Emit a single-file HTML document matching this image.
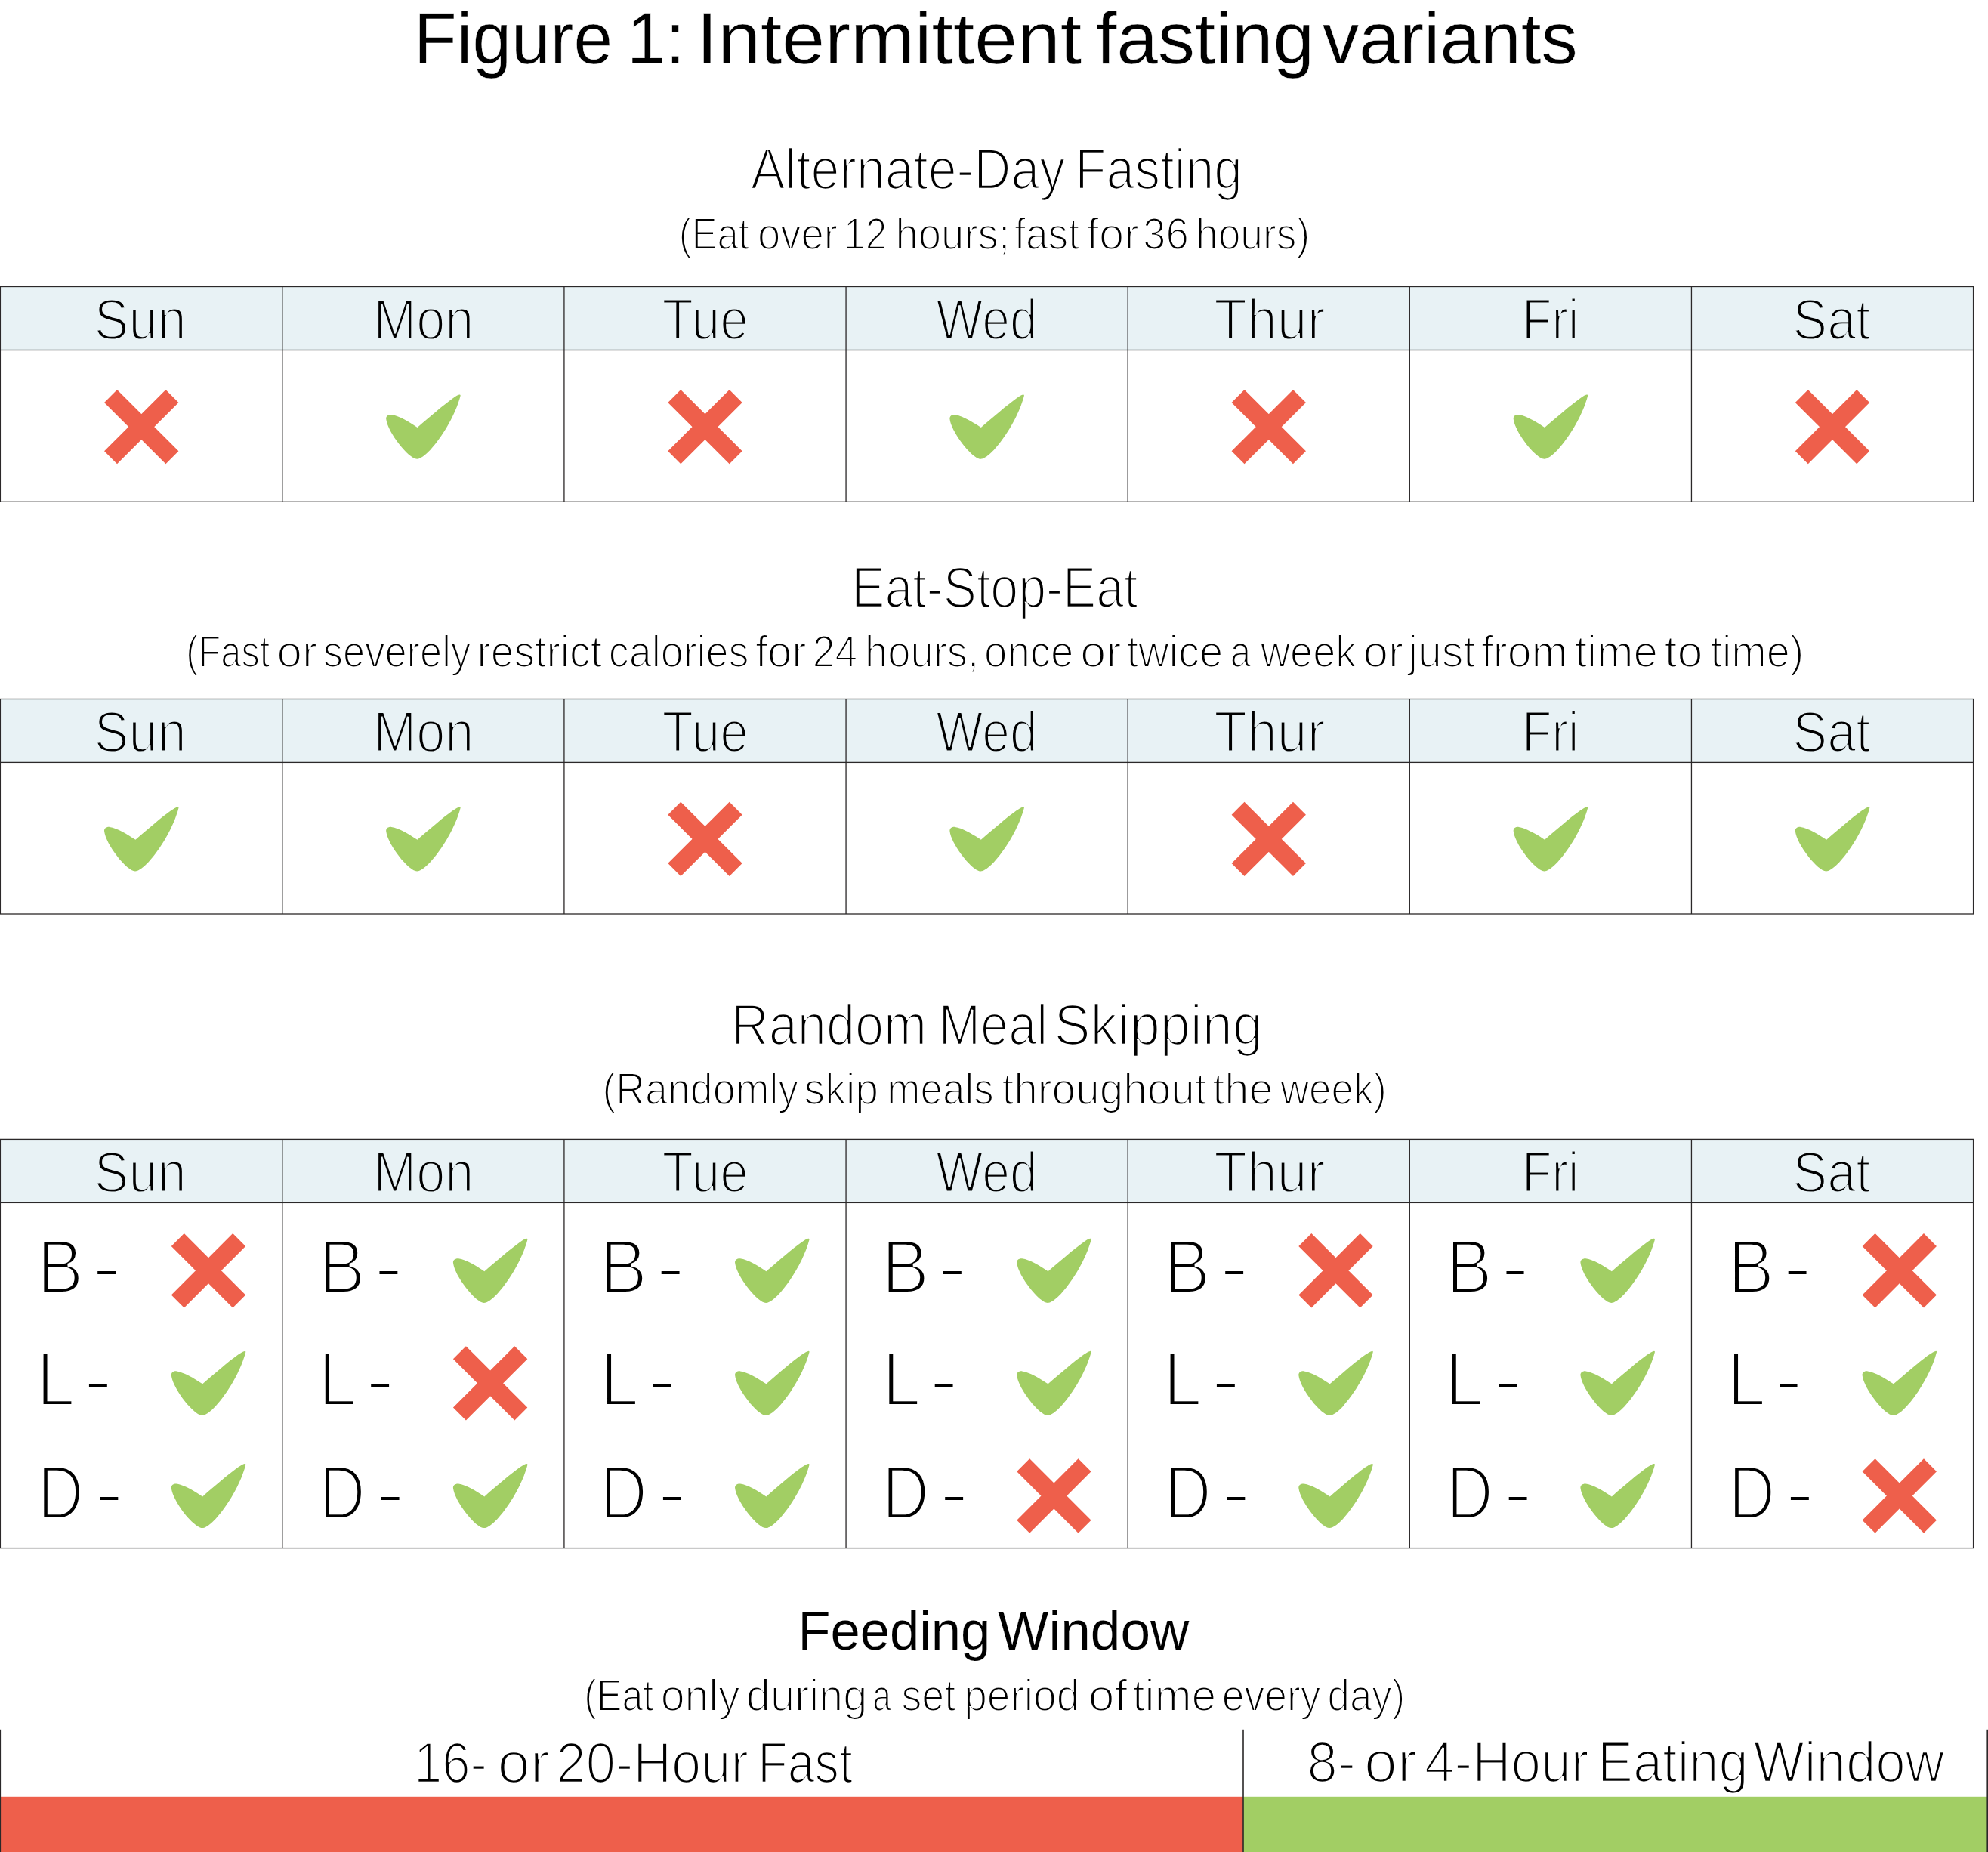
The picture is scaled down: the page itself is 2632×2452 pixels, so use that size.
<!DOCTYPE html>
<html lang="en"><head><meta charset="utf-8"><title>Figure 1: Intermittent fasting variants</title>
<style>
html,body{margin:0;padding:0;background:#fff}
body{width:2632px;height:2452px;overflow:hidden}
svg{display:block}
text{font-family:"Liberation Sans",sans-serif;font-weight:400;fill:#000;white-space:pre}
</style></head><body>
<svg width="2632" height="2452" viewBox="0 0 2632 2452">
<defs>
<path id="ck" d="M41.4,43.5 C57,30 76,13.5 88.5,4.7 C92,2.3 95,0.6 97,0.1 C98.3,-0.2 98.8,0.6 98.3,2 C89,38 55,85.2 41,85.2 C30,85.2 2,50 0,32 C-0.3,28.5 3,26.3 7,26.6 C17,28 31,36.5 41.4,43.5 Z" fill="#a2ce64"/>
<path id="xx" d="M-40.7,-40.7 L40.7,40.7 M40.7,-40.7 L-40.7,40.7" stroke="#ee5f4b" stroke-width="24" fill="none"/>
</defs>
<rect x="0.67" y="379.50" width="2611.91" height="84.00" fill="#e8f2f5"/>
<rect x="0.67" y="925.50" width="2611.91" height="83.90" fill="#e8f2f5"/>
<rect x="0.67" y="1508.40" width="2611.91" height="84.00" fill="#e8f2f5"/>
<rect x="0" y="2378.8" width="1646.0" height="73.2" fill="#ee5f4b"/>
<rect x="1646.0" y="2378.8" width="986.0" height="73.2" fill="#a2ce64"/>
<rect x="0.00" y="378.85" width="2613.18" height="1.3" fill="#2b2829"/>
<rect x="0.00" y="462.85" width="2613.18" height="1.3" fill="#2b2829"/>
<rect x="0.00" y="663.65" width="2613.18" height="1.3" fill="#2b2829"/>
<rect x="-0.25" y="379.50" width="1.3" height="284.80" fill="#2b2829"/>
<rect x="373.15" y="379.50" width="1.3" height="284.80" fill="#2b2829"/>
<rect x="746.28" y="379.50" width="1.3" height="284.80" fill="#2b2829"/>
<rect x="1119.41" y="379.50" width="1.3" height="284.80" fill="#2b2829"/>
<rect x="1492.54" y="379.50" width="1.3" height="284.80" fill="#2b2829"/>
<rect x="1865.67" y="379.50" width="1.3" height="284.80" fill="#2b2829"/>
<rect x="2238.80" y="379.50" width="1.3" height="284.80" fill="#2b2829"/>
<rect x="2611.93" y="379.50" width="1.3" height="284.80" fill="#2b2829"/>
<rect x="0.00" y="924.85" width="2613.18" height="1.3" fill="#2b2829"/>
<rect x="0.00" y="1008.75" width="2613.18" height="1.3" fill="#2b2829"/>
<rect x="0.00" y="1209.35" width="2613.18" height="1.3" fill="#2b2829"/>
<rect x="-0.25" y="925.50" width="1.3" height="284.50" fill="#2b2829"/>
<rect x="373.15" y="925.50" width="1.3" height="284.50" fill="#2b2829"/>
<rect x="746.28" y="925.50" width="1.3" height="284.50" fill="#2b2829"/>
<rect x="1119.41" y="925.50" width="1.3" height="284.50" fill="#2b2829"/>
<rect x="1492.54" y="925.50" width="1.3" height="284.50" fill="#2b2829"/>
<rect x="1865.67" y="925.50" width="1.3" height="284.50" fill="#2b2829"/>
<rect x="2238.80" y="925.50" width="1.3" height="284.50" fill="#2b2829"/>
<rect x="2611.93" y="925.50" width="1.3" height="284.50" fill="#2b2829"/>
<rect x="0.00" y="1507.75" width="2613.18" height="1.3" fill="#2b2829"/>
<rect x="0.00" y="1591.75" width="2613.18" height="1.3" fill="#2b2829"/>
<rect x="0.00" y="2048.95" width="2613.18" height="1.3" fill="#2b2829"/>
<rect x="-0.25" y="1508.40" width="1.3" height="541.20" fill="#2b2829"/>
<rect x="373.15" y="1508.40" width="1.3" height="541.20" fill="#2b2829"/>
<rect x="746.28" y="1508.40" width="1.3" height="541.20" fill="#2b2829"/>
<rect x="1119.41" y="1508.40" width="1.3" height="541.20" fill="#2b2829"/>
<rect x="1492.54" y="1508.40" width="1.3" height="541.20" fill="#2b2829"/>
<rect x="1865.67" y="1508.40" width="1.3" height="541.20" fill="#2b2829"/>
<rect x="2238.80" y="1508.40" width="1.3" height="541.20" fill="#2b2829"/>
<rect x="2611.93" y="1508.40" width="1.3" height="541.20" fill="#2b2829"/>
<rect x="-0.50" y="2289.8" width="1.6" height="162.2" fill="#2b2829"/>
<rect x="1645.20" y="2289.8" width="1.6" height="162.2" fill="#2b2829"/>
<rect x="2630.40" y="2289.8" width="1.6" height="162.2" fill="#2b2829"/>
<use href="#xx" x="187.23" y="565.10"/>
<use href="#ck" x="511.17" y="522.50"/>
<use href="#xx" x="933.49" y="565.10"/>
<use href="#ck" x="1257.42" y="522.50"/>
<use href="#xx" x="1679.76" y="565.10"/>
<use href="#ck" x="2003.69" y="522.50"/>
<use href="#xx" x="2426.01" y="565.10"/>
<use href="#ck" x="138.03" y="1068.30"/>
<use href="#ck" x="511.17" y="1068.30"/>
<use href="#xx" x="933.49" y="1110.90"/>
<use href="#ck" x="1257.42" y="1068.30"/>
<use href="#xx" x="1679.76" y="1110.90"/>
<use href="#ck" x="2003.69" y="1068.30"/>
<use href="#ck" x="2376.82" y="1068.30"/>
<use href="#xx" x="276.00" y="1682.30"/>
<use href="#ck" x="226.80" y="1788.80"/>
<use href="#ck" x="226.80" y="1937.90"/>
<use href="#ck" x="599.93" y="1639.70"/>
<use href="#xx" x="649.13" y="1831.40"/>
<use href="#ck" x="599.93" y="1937.90"/>
<use href="#ck" x="973.06" y="1639.70"/>
<use href="#ck" x="973.06" y="1788.80"/>
<use href="#ck" x="973.06" y="1937.90"/>
<use href="#ck" x="1346.19" y="1639.70"/>
<use href="#ck" x="1346.19" y="1788.80"/>
<use href="#xx" x="1395.39" y="1980.50"/>
<use href="#xx" x="1768.52" y="1682.30"/>
<use href="#ck" x="1719.32" y="1788.80"/>
<use href="#ck" x="1719.32" y="1937.90"/>
<use href="#ck" x="2092.45" y="1639.70"/>
<use href="#ck" x="2092.45" y="1788.80"/>
<use href="#ck" x="2092.45" y="1937.90"/>
<use href="#xx" x="2514.78" y="1682.30"/>
<use href="#ck" x="2465.58" y="1788.80"/>
<use href="#xx" x="2514.78" y="1980.50"/>
<text y="84.05" font-size="96.7" stroke="#fff" stroke-width="0.50"><tspan x="548.11" textLength="263.00" lengthAdjust="spacingAndGlyphs">Figure</tspan> <tspan x="829.99" textLength="76.84" lengthAdjust="spacingAndGlyphs">1:</tspan> <tspan x="921.91" textLength="510.07" lengthAdjust="spacingAndGlyphs">Intermittent</tspan> <tspan x="1451.31" textLength="288.57" lengthAdjust="spacingAndGlyphs">fasting</tspan> <tspan x="1751.06" textLength="337.70" lengthAdjust="spacingAndGlyphs">variants</tspan></text>
<text y="250.34" font-size="76.0" stroke="#fff" stroke-width="2.68"><tspan x="993.90" textLength="416.49" lengthAdjust="spacingAndGlyphs">Alternate-Day</tspan> <tspan x="1423.35" textLength="221.54" lengthAdjust="spacingAndGlyphs">Fasting</tspan></text>
<text y="329.76" font-size="59.1" stroke="#fff" stroke-width="2.13"><tspan x="898.80" textLength="93.18" lengthAdjust="spacingAndGlyphs">(Eat</tspan> <tspan x="1002.94" textLength="105.96" lengthAdjust="spacingAndGlyphs">over</tspan> <tspan x="1117.09" textLength="57.11" lengthAdjust="spacingAndGlyphs">12</tspan> <tspan x="1185.47" textLength="151.57" lengthAdjust="spacingAndGlyphs">hours;</tspan> <tspan x="1343.09" textLength="86.01" lengthAdjust="spacingAndGlyphs">fast</tspan> <tspan x="1438.39" textLength="69.51" lengthAdjust="spacingAndGlyphs">for</tspan> <tspan x="1513.12" textLength="60.65" lengthAdjust="spacingAndGlyphs">36</tspan> <tspan x="1582.99" textLength="151.34" lengthAdjust="spacingAndGlyphs">hours)</tspan></text>
<text y="804.04" font-size="76.0" stroke="#fff" stroke-width="2.68"><tspan x="1127.26" textLength="379.19" lengthAdjust="spacingAndGlyphs">Eat-Stop-Eat</tspan></text>
<text y="883.26" font-size="59.1" stroke="#fff" stroke-width="2.13"><tspan x="246.34" textLength="110.94" lengthAdjust="spacingAndGlyphs">(Fast</tspan> <tspan x="366.64" textLength="53.30" lengthAdjust="spacingAndGlyphs">or</tspan> <tspan x="427.75" textLength="195.38" lengthAdjust="spacingAndGlyphs">severely</tspan> <tspan x="631.42" textLength="165.62" lengthAdjust="spacingAndGlyphs">restrict</tspan> <tspan x="805.72" textLength="185.84" lengthAdjust="spacingAndGlyphs">calories</tspan> <tspan x="999.93" textLength="67.74" lengthAdjust="spacingAndGlyphs">for</tspan> <tspan x="1075.72" textLength="59.34" lengthAdjust="spacingAndGlyphs">24</tspan> <tspan x="1145.10" textLength="150.99" lengthAdjust="spacingAndGlyphs">hours,</tspan> <tspan x="1303.07" textLength="118.28" lengthAdjust="spacingAndGlyphs">once</tspan> <tspan x="1430.30" textLength="54.24" lengthAdjust="spacingAndGlyphs">or</tspan> <tspan x="1491.39" textLength="127.97" lengthAdjust="spacingAndGlyphs">twice</tspan> <tspan x="1628.72" textLength="27.35" lengthAdjust="spacingAndGlyphs">a</tspan> <tspan x="1668.99" textLength="126.42" lengthAdjust="spacingAndGlyphs">week</tspan> <tspan x="1804.57" textLength="53.40" lengthAdjust="spacingAndGlyphs">or</tspan> <tspan x="1864.19" textLength="89.10" lengthAdjust="spacingAndGlyphs">just</tspan> <tspan x="1960.93" textLength="114.41" lengthAdjust="spacingAndGlyphs">from</tspan> <tspan x="2084.92" textLength="110.08" lengthAdjust="spacingAndGlyphs">time</tspan> <tspan x="2203.42" textLength="50.97" lengthAdjust="spacingAndGlyphs">to</tspan> <tspan x="2264.40" textLength="123.89" lengthAdjust="spacingAndGlyphs">time)</tspan></text>
<text y="1382.94" font-size="76.0" stroke="#fff" stroke-width="2.68"><tspan x="968.24" textLength="258.89" lengthAdjust="spacingAndGlyphs">Random</tspan> <tspan x="1242.48" textLength="144.70" lengthAdjust="spacingAndGlyphs">Meal</tspan> <tspan x="1395.55" textLength="276.47" lengthAdjust="spacingAndGlyphs">Skipping</tspan></text>
<text y="1461.96" font-size="59.1" stroke="#fff" stroke-width="2.13"><tspan x="797.41" textLength="259.80" lengthAdjust="spacingAndGlyphs">(Randomly</tspan> <tspan x="1064.61" textLength="98.47" lengthAdjust="spacingAndGlyphs">skip</tspan> <tspan x="1174.37" textLength="141.39" lengthAdjust="spacingAndGlyphs">meals</tspan> <tspan x="1326.46" textLength="271.09" lengthAdjust="spacingAndGlyphs">throughout</tspan> <tspan x="1605.20" textLength="80.53" lengthAdjust="spacingAndGlyphs">the</tspan> <tspan x="1694.90" textLength="141.09" lengthAdjust="spacingAndGlyphs">week)</tspan></text>
<text y="2183.88" font-size="72.1" stroke="#fff" stroke-width="0.15"><tspan x="1056.52" textLength="254.66" lengthAdjust="spacingAndGlyphs">Feeding</tspan> <tspan x="1321.36" textLength="252.94" lengthAdjust="spacingAndGlyphs">Window</tspan></text>
<text y="2264.76" font-size="59.1" stroke="#fff" stroke-width="2.13"><tspan x="773.35" textLength="91.92" lengthAdjust="spacingAndGlyphs">(Eat</tspan> <tspan x="874.67" textLength="105.03" lengthAdjust="spacingAndGlyphs">only</tspan> <tspan x="987.84" textLength="160.53" lengthAdjust="spacingAndGlyphs">during</tspan> <tspan x="1155.26" textLength="24.55" lengthAdjust="spacingAndGlyphs">a</tspan> <tspan x="1193.51" textLength="71.66" lengthAdjust="spacingAndGlyphs">set</tspan> <tspan x="1276.13" textLength="153.28" lengthAdjust="spacingAndGlyphs">period</tspan> <tspan x="1440.65" textLength="52.04" lengthAdjust="spacingAndGlyphs">of</tspan> <tspan x="1499.31" textLength="110.85" lengthAdjust="spacingAndGlyphs">time</tspan> <tspan x="1617.77" textLength="130.63" lengthAdjust="spacingAndGlyphs">every</tspan> <tspan x="1757.57" textLength="102.71" lengthAdjust="spacingAndGlyphs">day)</tspan></text>
<text y="2359.74" font-size="76.0" stroke="#fff" stroke-width="2.68"><tspan x="547.93" textLength="96.85" lengthAdjust="spacingAndGlyphs">16-</tspan> <tspan x="658.63" textLength="69.08" lengthAdjust="spacingAndGlyphs">or</tspan> <tspan x="736.48" textLength="254.45" lengthAdjust="spacingAndGlyphs">20-Hour</tspan> <tspan x="1003.27" textLength="125.55" lengthAdjust="spacingAndGlyphs">Fast</tspan></text>
<text y="2359.34" font-size="76.0" stroke="#fff" stroke-width="2.68"><tspan x="1730.57" textLength="64.19" lengthAdjust="spacingAndGlyphs">8-</tspan> <tspan x="1805.92" textLength="70.00" lengthAdjust="spacingAndGlyphs">or</tspan> <tspan x="1886.07" textLength="217.31" lengthAdjust="spacingAndGlyphs">4-Hour</tspan> <tspan x="2114.92" textLength="199.74" lengthAdjust="spacingAndGlyphs">Eating</tspan> <tspan x="2321.70" textLength="252.39" lengthAdjust="spacingAndGlyphs">Window</tspan></text>
<text y="448.69" font-size="76.0" stroke="#e8f2f5" stroke-width="2.77"><tspan x="124.82" textLength="121.87" lengthAdjust="spacingAndGlyphs">Sun</tspan></text>
<text y="448.69" font-size="76.0" stroke="#e8f2f5" stroke-width="2.77"><tspan x="494.32" textLength="132.94" lengthAdjust="spacingAndGlyphs">Mon</tspan></text>
<text y="448.69" font-size="76.0" stroke="#e8f2f5" stroke-width="2.77"><tspan x="876.61" textLength="114.40" lengthAdjust="spacingAndGlyphs">Tue</tspan></text>
<text y="448.69" font-size="76.0" stroke="#e8f2f5" stroke-width="2.77"><tspan x="1239.21" textLength="134.39" lengthAdjust="spacingAndGlyphs">Wed</tspan></text>
<text y="448.69" font-size="76.0" stroke="#e8f2f5" stroke-width="2.77"><tspan x="1607.33" textLength="147.16" lengthAdjust="spacingAndGlyphs">Thur</tspan></text>
<text y="448.69" font-size="76.0" stroke="#e8f2f5" stroke-width="2.77"><tspan x="2015.07" textLength="75.41" lengthAdjust="spacingAndGlyphs">Fri</tspan></text>
<text y="448.69" font-size="76.0" stroke="#e8f2f5" stroke-width="2.77"><tspan x="2373.55" textLength="102.75" lengthAdjust="spacingAndGlyphs">Sat</tspan></text>
<text y="994.69" font-size="76.0" stroke="#e8f2f5" stroke-width="2.77"><tspan x="124.82" textLength="121.87" lengthAdjust="spacingAndGlyphs">Sun</tspan></text>
<text y="994.69" font-size="76.0" stroke="#e8f2f5" stroke-width="2.77"><tspan x="494.32" textLength="132.94" lengthAdjust="spacingAndGlyphs">Mon</tspan></text>
<text y="994.69" font-size="76.0" stroke="#e8f2f5" stroke-width="2.77"><tspan x="876.61" textLength="114.40" lengthAdjust="spacingAndGlyphs">Tue</tspan></text>
<text y="994.69" font-size="76.0" stroke="#e8f2f5" stroke-width="2.77"><tspan x="1239.21" textLength="134.39" lengthAdjust="spacingAndGlyphs">Wed</tspan></text>
<text y="994.69" font-size="76.0" stroke="#e8f2f5" stroke-width="2.77"><tspan x="1607.33" textLength="147.16" lengthAdjust="spacingAndGlyphs">Thur</tspan></text>
<text y="994.69" font-size="76.0" stroke="#e8f2f5" stroke-width="2.77"><tspan x="2015.07" textLength="75.41" lengthAdjust="spacingAndGlyphs">Fri</tspan></text>
<text y="994.69" font-size="76.0" stroke="#e8f2f5" stroke-width="2.77"><tspan x="2373.55" textLength="102.75" lengthAdjust="spacingAndGlyphs">Sat</tspan></text>
<text y="1577.59" font-size="76.0" stroke="#e8f2f5" stroke-width="2.77"><tspan x="124.82" textLength="121.87" lengthAdjust="spacingAndGlyphs">Sun</tspan></text>
<text y="1577.59" font-size="76.0" stroke="#e8f2f5" stroke-width="2.77"><tspan x="494.32" textLength="132.94" lengthAdjust="spacingAndGlyphs">Mon</tspan></text>
<text y="1577.59" font-size="76.0" stroke="#e8f2f5" stroke-width="2.77"><tspan x="876.61" textLength="114.40" lengthAdjust="spacingAndGlyphs">Tue</tspan></text>
<text y="1577.59" font-size="76.0" stroke="#e8f2f5" stroke-width="2.77"><tspan x="1239.21" textLength="134.39" lengthAdjust="spacingAndGlyphs">Wed</tspan></text>
<text y="1577.59" font-size="76.0" stroke="#e8f2f5" stroke-width="2.77"><tspan x="1607.33" textLength="147.16" lengthAdjust="spacingAndGlyphs">Thur</tspan></text>
<text y="1577.59" font-size="76.0" stroke="#e8f2f5" stroke-width="2.77"><tspan x="2015.07" textLength="75.41" lengthAdjust="spacingAndGlyphs">Fri</tspan></text>
<text y="1577.59" font-size="76.0" stroke="#e8f2f5" stroke-width="2.77"><tspan x="2373.55" textLength="102.75" lengthAdjust="spacingAndGlyphs">Sat</tspan></text>
<text y="1712.15" font-size="101.9" stroke="#fff" stroke-width="3.90"><tspan x="48.94" textLength="61.41" lengthAdjust="spacingAndGlyphs">B</tspan> <tspan x="121.73" textLength="38.78" lengthAdjust="spacingAndGlyphs">-</tspan></text>
<text y="1861.45" font-size="101.9" stroke="#fff" stroke-width="3.90"><tspan x="48.18" textLength="47.56" lengthAdjust="spacingAndGlyphs">L</tspan> <tspan x="110.53" textLength="38.78" lengthAdjust="spacingAndGlyphs">-</tspan></text>
<text y="2010.65" font-size="101.9" stroke="#fff" stroke-width="3.90"><tspan x="49.73" textLength="60.64" lengthAdjust="spacingAndGlyphs">D</tspan> <tspan x="124.93" textLength="38.78" lengthAdjust="spacingAndGlyphs">-</tspan></text>
<text y="1712.15" font-size="101.9" stroke="#fff" stroke-width="3.90"><tspan x="422.05" textLength="61.58" lengthAdjust="spacingAndGlyphs">B</tspan> <tspan x="494.99" textLength="38.78" lengthAdjust="spacingAndGlyphs">-</tspan></text>
<text y="1861.45" font-size="101.9" stroke="#fff" stroke-width="3.90"><tspan x="421.44" textLength="47.56" lengthAdjust="spacingAndGlyphs">L</tspan> <tspan x="483.79" textLength="38.78" lengthAdjust="spacingAndGlyphs">-</tspan></text>
<text y="2010.65" font-size="101.9" stroke="#fff" stroke-width="3.90"><tspan x="422.84" textLength="60.80" lengthAdjust="spacingAndGlyphs">D</tspan> <tspan x="497.19" textLength="38.78" lengthAdjust="spacingAndGlyphs">-</tspan></text>
<text y="1712.15" font-size="101.9" stroke="#fff" stroke-width="3.90"><tspan x="793.80" textLength="63.25" lengthAdjust="spacingAndGlyphs">B</tspan> <tspan x="868.25" textLength="38.78" lengthAdjust="spacingAndGlyphs">-</tspan></text>
<text y="1861.45" font-size="101.9" stroke="#fff" stroke-width="3.90"><tspan x="794.70" textLength="47.56" lengthAdjust="spacingAndGlyphs">L</tspan> <tspan x="857.05" textLength="38.78" lengthAdjust="spacingAndGlyphs">-</tspan></text>
<text y="2010.65" font-size="101.9" stroke="#fff" stroke-width="3.90"><tspan x="794.61" textLength="62.41" lengthAdjust="spacingAndGlyphs">D</tspan> <tspan x="870.45" textLength="38.78" lengthAdjust="spacingAndGlyphs">-</tspan></text>
<text y="1712.15" font-size="101.9" stroke="#fff" stroke-width="3.90"><tspan x="1167.06" textLength="63.25" lengthAdjust="spacingAndGlyphs">B</tspan> <tspan x="1241.51" textLength="38.78" lengthAdjust="spacingAndGlyphs">-</tspan></text>
<text y="1861.45" font-size="101.9" stroke="#fff" stroke-width="3.90"><tspan x="1167.96" textLength="47.56" lengthAdjust="spacingAndGlyphs">L</tspan> <tspan x="1230.31" textLength="38.78" lengthAdjust="spacingAndGlyphs">-</tspan></text>
<text y="2010.65" font-size="101.9" stroke="#fff" stroke-width="3.90"><tspan x="1167.87" textLength="62.41" lengthAdjust="spacingAndGlyphs">D</tspan> <tspan x="1243.71" textLength="38.78" lengthAdjust="spacingAndGlyphs">-</tspan></text>
<text y="1712.15" font-size="101.9" stroke="#fff" stroke-width="3.90"><tspan x="1541.56" textLength="60.78" lengthAdjust="spacingAndGlyphs">B</tspan> <tspan x="1614.77" textLength="38.78" lengthAdjust="spacingAndGlyphs">-</tspan></text>
<text y="1861.45" font-size="101.9" stroke="#fff" stroke-width="3.90"><tspan x="1540.22" textLength="47.56" lengthAdjust="spacingAndGlyphs">L</tspan> <tspan x="1603.57" textLength="38.78" lengthAdjust="spacingAndGlyphs">-</tspan></text>
<text y="2010.65" font-size="101.9" stroke="#fff" stroke-width="3.90"><tspan x="1542.16" textLength="61.29" lengthAdjust="spacingAndGlyphs">D</tspan> <tspan x="1616.97" textLength="38.78" lengthAdjust="spacingAndGlyphs">-</tspan></text>
<text y="1712.15" font-size="101.9" stroke="#fff" stroke-width="3.90"><tspan x="1914.66" textLength="60.95" lengthAdjust="spacingAndGlyphs">B</tspan> <tspan x="1987.22" textLength="37.56" lengthAdjust="spacingAndGlyphs">-</tspan></text>
<text y="1861.45" font-size="101.9" stroke="#fff" stroke-width="3.90"><tspan x="1913.48" textLength="47.56" lengthAdjust="spacingAndGlyphs">L</tspan> <tspan x="1976.83" textLength="38.78" lengthAdjust="spacingAndGlyphs">-</tspan></text>
<text y="2010.65" font-size="101.9" stroke="#fff" stroke-width="3.90"><tspan x="1915.27" textLength="61.46" lengthAdjust="spacingAndGlyphs">D</tspan> <tspan x="1990.23" textLength="38.78" lengthAdjust="spacingAndGlyphs">-</tspan></text>
<text y="1712.15" font-size="101.9" stroke="#fff" stroke-width="3.90"><tspan x="2287.77" textLength="61.12" lengthAdjust="spacingAndGlyphs">B</tspan> <tspan x="2360.29" textLength="38.78" lengthAdjust="spacingAndGlyphs">-</tspan></text>
<text y="1861.45" font-size="101.9" stroke="#fff" stroke-width="3.90"><tspan x="2286.74" textLength="47.56" lengthAdjust="spacingAndGlyphs">L</tspan> <tspan x="2349.28" textLength="37.51" lengthAdjust="spacingAndGlyphs">-</tspan></text>
<text y="2010.65" font-size="101.9" stroke="#fff" stroke-width="3.90"><tspan x="2288.38" textLength="61.62" lengthAdjust="spacingAndGlyphs">D</tspan> <tspan x="2363.49" textLength="38.78" lengthAdjust="spacingAndGlyphs">-</tspan></text>
</svg>
</body></html>
